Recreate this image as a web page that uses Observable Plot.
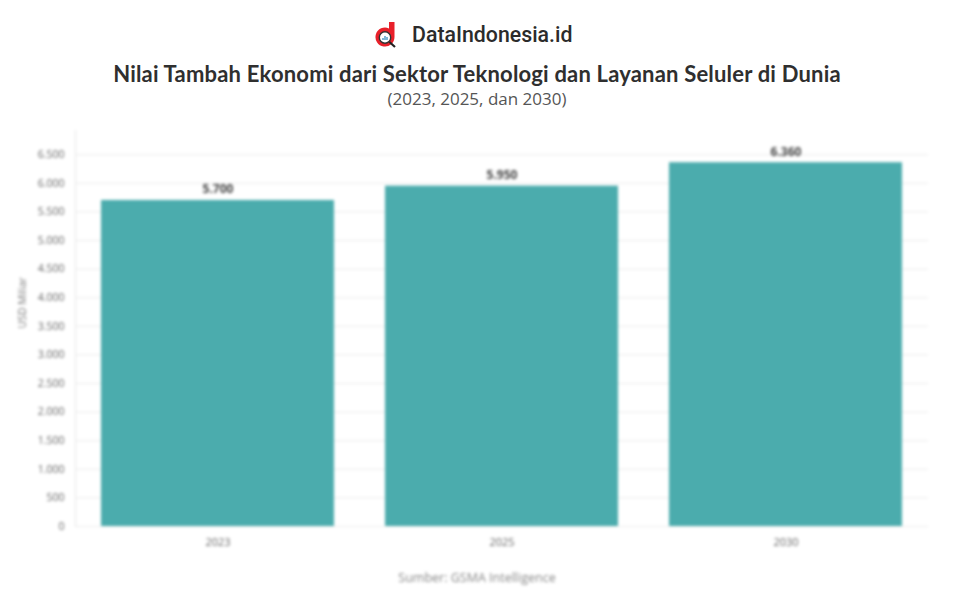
<!DOCTYPE html>
<html><head><meta charset="utf-8">
<script src="https://cdn.jsdelivr.net/npm/d3@7"></script>
<script src="https://cdn.jsdelivr.net/npm/@observablehq/plot@0.6"></script>
<style>
html,body{margin:0;padding:0;background:#fff;width:954px;height:596px;overflow:hidden}
#head{height:120px;position:relative;text-align:center}
#logo{position:absolute;left:375px;top:21px;width:24px;height:27px}
#brand{position:absolute;left:412px;top:20px;font:500 21.3px Roboto,sans-serif;color:#2b2b2b;line-height:30px;white-space:nowrap}
#title{position:absolute;left:0;width:954px;top:60px;font:700 22px Lato,sans-serif;letter-spacing:.19px;color:#2f2f2f;line-height:28px;white-space:nowrap}
#sub{position:absolute;left:0;width:954px;top:87px;font:400 17px "Open Sans",sans-serif;color:#555;line-height:24px;white-space:nowrap}
#chart svg{display:block;filter:blur(1.7px);overflow:visible}
#cap{position:absolute;left:0;width:954px;top:569px;text-align:center;font:400 12.5px "Open Sans",sans-serif;color:#888;filter:blur(1.7px)}
</style></head>
<body>
<div id="head">
<svg id="logo" viewBox="0 0 24 27"><path d="M14 1h5.500v15a9.500 9.500 0 1 1-5.500-8.600z" fill="#e8202a"/><circle cx="10" cy="16.500" r="5.700" fill="#fff" stroke="#333" stroke-width="1.400"/><path d="M14.500 21l5.500 5" stroke="#222" stroke-width="2.200"/><path d="M8 19v-2M10 19v-4M12 19v-3" stroke="#3a8fc0" stroke-width="1.300"/></svg>
<div id="brand">DataIndonesia.id</div>
<div id="title">Nilai Tambah Ekonomi dari Sektor Teknologi dan Layanan Seluler di Dunia</div>
<div id="sub">(2023, 2025, dan 2030)</div>
</div>
<div id="chart"></div>
<div id="cap">Sumber: GSMA Intelligence</div>
<script>
const years = ["2023","2025","2030"];
const values = [5700,5950,6360];
const yTicks = [0,500,1000,1500,2000,2500,3000,3500,4000,4500,5000,5500,6000,6500];
const yLabel = "USD Miliar";
const dotFmt = d => String(d).replace(/\B(?=(\d{3})+$)/g,".");
const rows = years.map((y,i)=>({year:y,value:values[i]}));
const plot = Plot.plot({
  width:954,height:440,
  marginTop:10,marginBottom:34,marginLeft:75,marginRight:26,
  style:{fontFamily:"'Open Sans',sans-serif",fontSize:"10.5px",color:"#666",background:"#fff"},
  x:{domain:years,paddingInner:0.18,paddingOuter:0.09,label:null,axis:null},
  y:{domain:[0,6923],label:null,axis:null},
  marks:[
    Plot.gridY(yTicks,{stroke:"#e6e6e6",strokeOpacity:0.8}),
    Plot.frame({anchor:"left",stroke:"#e6e6e6"}),
    Plot.axisY(yTicks,{tickSize:0,tickPadding:11,tickFormat:dotFmt,label:null,fill:"#666"}),
    Plot.axisX(years,{tickSize:0,tickPadding:12,label:null,fill:"#666",fontSize:11}),
    Plot.barY(rows,{x:"year",y:"value",fill:"#4BACAD"}),
    Plot.text(rows,{x:"year",y:"value",text:d=>dotFmt(d.value),dy:-11,fontWeight:700,fontSize:12,fill:"#444"}),
    Plot.text([yLabel],{frameAnchor:"left",dx:-53,rotate:-90,fill:"#777",fontSize:10.5})
  ]
});
document.getElementById("chart").append(plot);
</script>
</body></html>
